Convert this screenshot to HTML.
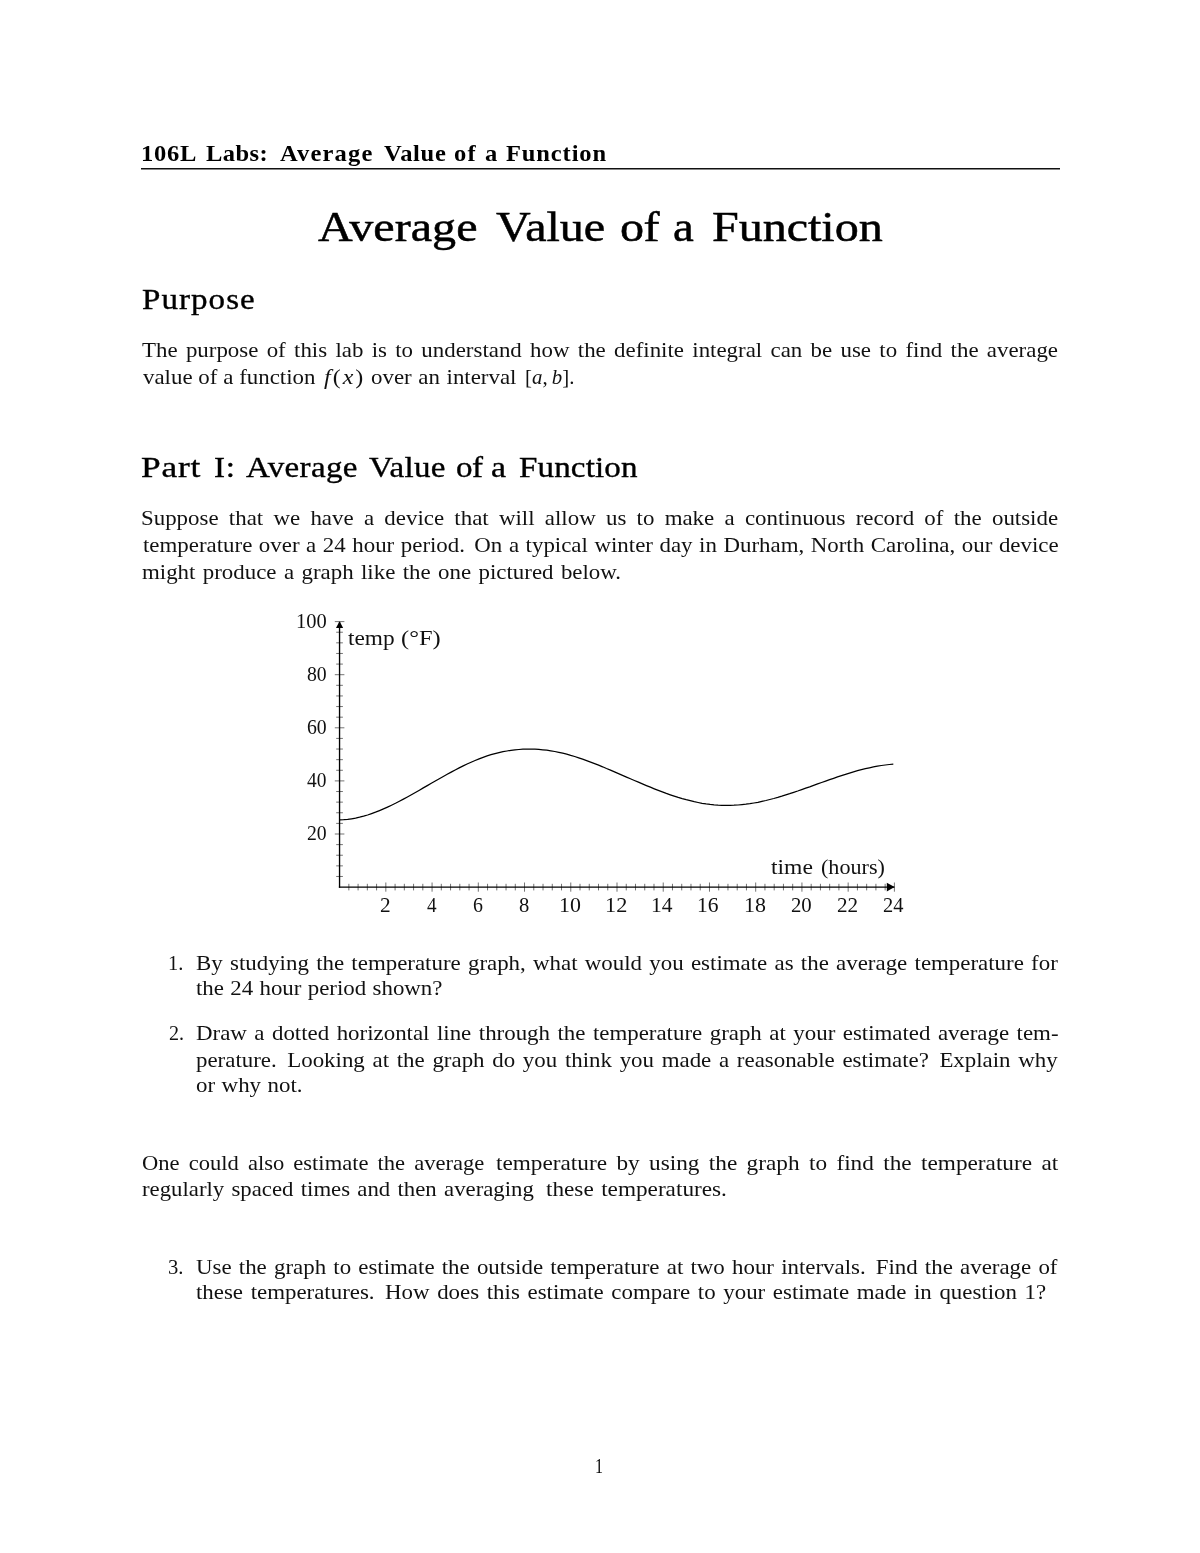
<!DOCTYPE html>
<html lang="en"><head><meta charset="utf-8"><title>Average Value of a Function</title>
<style>
html,body{margin:0;padding:0;background:#fff;}
body{width:1200px;height:1553px;position:relative;overflow:hidden;color:#111;font-family:"Liberation Serif",serif;}
header,h1,h2,p,ol,li,figure,footer{margin:0;padding:0;list-style:none;font:inherit;display:block;}
.t{display:block;position:absolute;white-space:nowrap;line-height:normal;margin:0;padding:0;transform-origin:0 0;}
.s{display:inline-block;width:2.62px;}
svg{position:absolute;left:0;top:0;}
</style></head><body>
<header>
<span class="t" style="left:141.08px;top:141.06px;font-size:22.1px;font-weight:bold;letter-spacing:0.687px;transform:scaleX(1.1100);color:#000;">106L</span>
<span class="t" style="left:206.12px;top:141.06px;font-size:22.1px;font-weight:bold;letter-spacing:0.390px;transform:scaleX(1.1100);color:#000;">Labs:</span>
<span class="t" style="left:279.50px;top:141.06px;font-size:22.1px;font-weight:bold;letter-spacing:1.041px;transform:scaleX(1.1100);color:#000;">Average</span>
<span class="t" style="left:383.75px;top:141.06px;font-size:22.1px;font-weight:bold;letter-spacing:0.611px;transform:scaleX(1.1100);color:#000;">Value</span>
<span class="t" style="left:454.23px;top:141.06px;font-size:22.1px;font-weight:bold;letter-spacing:1.188px;transform:scaleX(1.1100);color:#000;">of</span>
<span class="t" style="left:484.73px;top:141.06px;font-size:22.1px;font-weight:bold;transform:scaleX(1.1101);color:#000;">a</span>
<span class="t" style="left:505.87px;top:141.06px;font-size:22.1px;font-weight:bold;letter-spacing:0.780px;transform:scaleX(1.1100);color:#000;">Function</span>
</header>
<h1>
<span class="t" style="left:317.50px;top:203.26px;font-size:41.8px;letter-spacing:0.047px;transform:scaleX(1.1500);color:#000;-webkit-text-stroke:0.5px #000;">Average</span>
<span class="t" style="left:496.00px;top:203.26px;font-size:41.8px;letter-spacing:-0.085px;transform:scaleX(1.1500);color:#000;-webkit-text-stroke:0.5px #000;">Value</span>
<span class="t" style="left:620.00px;top:203.26px;font-size:41.8px;letter-spacing:-0.484px;transform:scaleX(1.1500);color:#000;-webkit-text-stroke:0.5px #000;">of</span>
<span class="t" style="left:672.54px;top:203.26px;font-size:41.8px;transform:scaleX(1.1189);color:#000;-webkit-text-stroke:0.5px #000;">a</span>
<span class="t" style="left:711.75px;top:203.26px;font-size:41.8px;letter-spacing:-0.021px;transform:scaleX(1.1500);color:#000;-webkit-text-stroke:0.5px #000;">Function</span>
</h1>
<h2>
<span class="t" style="left:141.78px;top:283.16px;font-size:29px;letter-spacing:0.902px;transform:scaleX(1.1400);color:#000;-webkit-text-stroke:0.35px #000;">Purpose</span>
</h2>
<p>
<span class="t" style="left:142.14px;top:338.03px;font-size:21.4px;word-spacing:2.415px;transform:scaleX(1.0700);">The purpose of this lab is to understand how the definite integral can be use to find the average</span>
<span class="t" style="left:142.50px;top:364.68px;font-size:21.4px;word-spacing:0.061px;transform:scaleX(1.0700);">value of a function</span>
<span class="t" style="left:323.75px;top:364.68px;font-size:21.4px;letter-spacing:1.780px;transform:scaleX(1.1200);"><i>f</i>(<i>x</i>)</span>
<span class="t" style="left:370.53px;top:364.68px;font-size:21.4px;word-spacing:0.847px;transform:scaleX(1.0700);">over an interval</span>
<span class="t" style="left:524.94px;top:364.68px;font-size:21.4px;word-spacing:-2.500px;transform:scaleX(0.9763);">[<i>a</i>,&#8201;<i>b</i>].</span>
</p>
<h2>
<span class="t" style="left:141.25px;top:451.16px;font-size:29px;letter-spacing:0.653px;transform:scaleX(1.2200);color:#000;-webkit-text-stroke:0.35px #000;">Part</span>
<span class="t" style="left:213.97px;top:451.16px;font-size:29px;letter-spacing:0.709px;transform:scaleX(1.1400);color:#000;-webkit-text-stroke:0.35px #000;">I:</span>
<span class="t" style="left:245.50px;top:451.16px;font-size:29px;letter-spacing:0.287px;transform:scaleX(1.1400);color:#000;-webkit-text-stroke:0.35px #000;">Average</span>
<span class="t" style="left:368.75px;top:451.16px;font-size:29px;letter-spacing:0.264px;transform:scaleX(1.1400);color:#000;-webkit-text-stroke:0.35px #000;">Value</span>
<span class="t" style="left:455.97px;top:451.16px;font-size:29px;letter-spacing:-0.536px;transform:scaleX(1.1400);color:#000;-webkit-text-stroke:0.35px #000;">of</span>
<span class="t" style="left:491.44px;top:451.16px;font-size:29px;transform:scaleX(1.1671);color:#000;-webkit-text-stroke:0.35px #000;">a</span>
<span class="t" style="left:518.98px;top:451.16px;font-size:29px;letter-spacing:0.121px;transform:scaleX(1.1400);color:#000;-webkit-text-stroke:0.35px #000;">Function</span>
</h2>
<p>
<span class="t" style="left:141.07px;top:505.93px;font-size:21.4px;word-spacing:4.257px;transform:scaleX(1.0700);">Suppose that we have a device that will allow us to make a continuous record of the outside</span>
<span class="t" style="left:142.50px;top:532.63px;font-size:21.4px;word-spacing:0.788px;transform:scaleX(1.0700);">temperature over a 24 hour period.<span class="s"></span> On a typical winter day in Durham, North Carolina, our device</span>
<span class="t" style="left:142.14px;top:559.68px;font-size:21.4px;word-spacing:1.568px;transform:scaleX(1.0700);">might produce a graph like the one pictured below.</span>
</p>
<ol><li>
<span class="t" style="left:168.40px;top:950.93px;font-size:21.4px;transform:scaleX(0.9585);">1.</span>
<span class="t" style="left:195.94px;top:950.93px;font-size:21.4px;word-spacing:1.461px;transform:scaleX(1.0700);">By studying the temperature graph, what would you estimate as the average temperature for</span>
<span class="t" style="left:196.30px;top:976.33px;font-size:21.4px;word-spacing:0.552px;transform:scaleX(1.0700);">the 24 hour period shown?</span>
</li></ol>
<ol><li>
<span class="t" style="left:168.67px;top:1021.33px;font-size:21.4px;transform:scaleX(0.9399);">2.</span>
<span class="t" style="left:195.94px;top:1021.33px;font-size:21.4px;word-spacing:1.652px;transform:scaleX(1.0700);">Draw a dotted horizontal line through the temperature graph at your estimated average tem-</span>
<span class="t" style="left:195.94px;top:1048.03px;font-size:21.4px;word-spacing:1.865px;transform:scaleX(1.0700);">perature.<span class="s"></span> Looking at the graph do you think you made a reasonable estimate?<span class="s"></span> Explain why</span>
<span class="t" style="left:195.58px;top:1073.43px;font-size:21.4px;word-spacing:0.773px;transform:scaleX(1.0700);">or why not.</span>
</li></ol>
<p>
<span class="t" style="left:141.80px;top:1151.33px;font-size:21.4px;word-spacing:3.300px;transform:scaleX(1.0541);">One could also estimate the average</span>
<span class="t" style="left:495.50px;top:1151.33px;font-size:21.4px;word-spacing:3.300px;transform:scaleX(1.0867);">temperature by using the graph to find the temperature at</span>
<span class="t" style="left:142.14px;top:1176.63px;font-size:21.4px;word-spacing:1.500px;transform:scaleX(1.0646);">regularly spaced times and then averaging</span>
<span class="t" style="left:545.50px;top:1176.63px;font-size:21.4px;word-spacing:1.500px;transform:scaleX(1.0856);">these temperatures.</span>
</p>
<ol><li>
<span class="t" style="left:168.33px;top:1254.53px;font-size:21.4px;transform:scaleX(0.9628);">3.</span>
<span class="t" style="left:195.94px;top:1254.53px;font-size:21.4px;word-spacing:1.385px;transform:scaleX(1.0700);">Use the graph to estimate the outside temperature at two hour intervals.<span class="s"></span> Find the average of</span>
<span class="t" style="left:196.30px;top:1279.68px;font-size:21.4px;word-spacing:1.793px;transform:scaleX(1.0700);">these temperatures.<span class="s"></span> How does this estimate compare to your estimate made in question 1?</span>
</li></ol>
<footer>
<span class="t" style="left:595.35px;top:1454.13px;font-size:21.4px;transform:scaleX(0.7477);color:#000;">1</span>
</footer>
<figure>
<span class="t" style="left:306.68px;top:821.47px;font-size:20.8px;transform:scaleX(0.9487);">20</span>
<span class="t" style="left:307.00px;top:768.37px;font-size:20.8px;transform:scaleX(0.9332);">40</span>
<span class="t" style="left:306.68px;top:715.27px;font-size:20.8px;transform:scaleX(0.9487);">60</span>
<span class="t" style="left:306.68px;top:662.17px;font-size:20.8px;transform:scaleX(0.9487);">80</span>
<span class="t" style="left:295.70px;top:608.97px;font-size:20.8px;transform:scaleX(0.9853);">100</span>
<span class="t" style="left:380.07px;top:893.47px;font-size:20.8px;transform:scaleX(1.0256);">2</span>
<span class="t" style="left:426.67px;top:893.47px;font-size:20.8px;transform:scaleX(0.9231);">4</span>
<span class="t" style="left:472.58px;top:893.47px;font-size:20.8px;transform:scaleX(0.9549);">6</span>
<span class="t" style="left:518.79px;top:893.47px;font-size:20.8px;transform:scaleX(0.9890);">8</span>
<span class="t" style="left:558.71px;top:893.47px;font-size:20.8px;transform:scaleX(1.0526);">10</span>
<span class="t" style="left:604.91px;top:893.47px;font-size:20.8px;transform:scaleX(1.0714);">12</span>
<span class="t" style="left:651.20px;top:893.47px;font-size:20.8px;transform:scaleX(1.0345);">14</span>
<span class="t" style="left:697.44px;top:893.47px;font-size:20.8px;transform:scaleX(1.0345);">16</span>
<span class="t" style="left:743.64px;top:893.47px;font-size:20.8px;transform:scaleX(1.0526);">18</span>
<span class="t" style="left:790.93px;top:893.47px;font-size:20.8px;transform:scaleX(1.0000);">20</span>
<span class="t" style="left:837.16px;top:893.47px;font-size:20.8px;transform:scaleX(1.0169);">22</span>
<span class="t" style="left:883.41px;top:893.47px;font-size:20.8px;transform:scaleX(0.9836);">24</span>
<span class="t" style="left:348.30px;top:625.67px;font-size:20.8px;transform:scaleX(1.1212);">temp</span>
<span class="t" style="left:401.24px;top:625.67px;font-size:20.8px;transform:scaleX(1.1751);">(°F)</span>
<span class="t" style="left:770.60px;top:855.22px;font-size:20.8px;transform:scaleX(1.1339);">time</span>
<span class="t" style="left:821.31px;top:855.22px;font-size:20.8px;transform:scaleX(1.0635);">(hours)</span>
<svg width="1200" height="1553" viewBox="0 0 1200 1553"><g stroke="#000" stroke-width="1" stroke-opacity="0.55" fill="none"><line x1="348.85" y1="883.8" x2="348.85" y2="890.4"/><line x1="358.09" y1="883.8" x2="358.09" y2="890.4"/><line x1="367.34" y1="883.8" x2="367.34" y2="890.4"/><line x1="376.59" y1="883.8" x2="376.59" y2="890.4"/><line x1="385.83" y1="882.5" x2="385.83" y2="891.7"/><line x1="395.08" y1="883.8" x2="395.08" y2="890.4"/><line x1="404.33" y1="883.8" x2="404.33" y2="890.4"/><line x1="413.57" y1="883.8" x2="413.57" y2="890.4"/><line x1="422.82" y1="883.8" x2="422.82" y2="890.4"/><line x1="432.07" y1="882.5" x2="432.07" y2="891.7"/><line x1="441.31" y1="883.8" x2="441.31" y2="890.4"/><line x1="450.56" y1="883.8" x2="450.56" y2="890.4"/><line x1="459.81" y1="883.8" x2="459.81" y2="890.4"/><line x1="469.05" y1="883.8" x2="469.05" y2="890.4"/><line x1="478.30" y1="882.5" x2="478.30" y2="891.7"/><line x1="487.55" y1="883.8" x2="487.55" y2="890.4"/><line x1="496.79" y1="883.8" x2="496.79" y2="890.4"/><line x1="506.04" y1="883.8" x2="506.04" y2="890.4"/><line x1="515.29" y1="883.8" x2="515.29" y2="890.4"/><line x1="524.53" y1="882.5" x2="524.53" y2="891.7"/><line x1="533.78" y1="883.8" x2="533.78" y2="890.4"/><line x1="543.03" y1="883.8" x2="543.03" y2="890.4"/><line x1="552.27" y1="883.8" x2="552.27" y2="890.4"/><line x1="561.52" y1="883.8" x2="561.52" y2="890.4"/><line x1="570.77" y1="882.5" x2="570.77" y2="891.7"/><line x1="580.01" y1="883.8" x2="580.01" y2="890.4"/><line x1="589.26" y1="883.8" x2="589.26" y2="890.4"/><line x1="598.51" y1="883.8" x2="598.51" y2="890.4"/><line x1="607.75" y1="883.8" x2="607.75" y2="890.4"/><line x1="617.00" y1="882.5" x2="617.00" y2="891.7"/><line x1="626.25" y1="883.8" x2="626.25" y2="890.4"/><line x1="635.49" y1="883.8" x2="635.49" y2="890.4"/><line x1="644.74" y1="883.8" x2="644.74" y2="890.4"/><line x1="653.99" y1="883.8" x2="653.99" y2="890.4"/><line x1="663.23" y1="882.5" x2="663.23" y2="891.7"/><line x1="672.48" y1="883.8" x2="672.48" y2="890.4"/><line x1="681.73" y1="883.8" x2="681.73" y2="890.4"/><line x1="690.97" y1="883.8" x2="690.97" y2="890.4"/><line x1="700.22" y1="883.8" x2="700.22" y2="890.4"/><line x1="709.47" y1="882.5" x2="709.47" y2="891.7"/><line x1="718.71" y1="883.8" x2="718.71" y2="890.4"/><line x1="727.96" y1="883.8" x2="727.96" y2="890.4"/><line x1="737.21" y1="883.8" x2="737.21" y2="890.4"/><line x1="746.45" y1="883.8" x2="746.45" y2="890.4"/><line x1="755.70" y1="882.5" x2="755.70" y2="891.7"/><line x1="764.95" y1="883.8" x2="764.95" y2="890.4"/><line x1="774.19" y1="883.8" x2="774.19" y2="890.4"/><line x1="783.44" y1="883.8" x2="783.44" y2="890.4"/><line x1="792.69" y1="883.8" x2="792.69" y2="890.4"/><line x1="801.93" y1="882.5" x2="801.93" y2="891.7"/><line x1="811.18" y1="883.8" x2="811.18" y2="890.4"/><line x1="820.43" y1="883.8" x2="820.43" y2="890.4"/><line x1="829.67" y1="883.8" x2="829.67" y2="890.4"/><line x1="838.92" y1="883.8" x2="838.92" y2="890.4"/><line x1="848.17" y1="882.5" x2="848.17" y2="891.7"/><line x1="857.41" y1="883.8" x2="857.41" y2="890.4"/><line x1="866.66" y1="883.8" x2="866.66" y2="890.4"/><line x1="875.91" y1="883.8" x2="875.91" y2="890.4"/><line x1="885.15" y1="883.8" x2="885.15" y2="890.4"/><line x1="894.40" y1="882.5" x2="894.40" y2="891.7"/><line x1="336.2" y1="876.48" x2="342.9" y2="876.48"/><line x1="336.2" y1="865.86" x2="342.9" y2="865.86"/><line x1="336.2" y1="855.24" x2="342.9" y2="855.24"/><line x1="336.2" y1="844.62" x2="342.9" y2="844.62"/><line x1="334.8" y1="834.00" x2="344.4" y2="834.00"/><line x1="336.2" y1="823.38" x2="342.9" y2="823.38"/><line x1="336.2" y1="812.76" x2="342.9" y2="812.76"/><line x1="336.2" y1="802.14" x2="342.9" y2="802.14"/><line x1="336.2" y1="791.52" x2="342.9" y2="791.52"/><line x1="334.8" y1="780.90" x2="344.4" y2="780.90"/><line x1="336.2" y1="770.28" x2="342.9" y2="770.28"/><line x1="336.2" y1="759.66" x2="342.9" y2="759.66"/><line x1="336.2" y1="749.04" x2="342.9" y2="749.04"/><line x1="336.2" y1="738.42" x2="342.9" y2="738.42"/><line x1="334.8" y1="727.80" x2="344.4" y2="727.80"/><line x1="336.2" y1="717.18" x2="342.9" y2="717.18"/><line x1="336.2" y1="706.56" x2="342.9" y2="706.56"/><line x1="336.2" y1="695.94" x2="342.9" y2="695.94"/><line x1="336.2" y1="685.32" x2="342.9" y2="685.32"/><line x1="334.8" y1="674.70" x2="344.4" y2="674.70"/><line x1="336.2" y1="664.08" x2="342.9" y2="664.08"/><line x1="336.2" y1="653.46" x2="342.9" y2="653.46"/><line x1="336.2" y1="642.84" x2="342.9" y2="642.84"/><line x1="336.2" y1="632.22" x2="342.9" y2="632.22"/><line x1="334.8" y1="621.60" x2="344.4" y2="621.60"/></g><g stroke="#000" stroke-width="1.35" fill="none"><line x1="339.55" y1="622" x2="339.55" y2="887.77"/><line x1="338.88" y1="887.1" x2="894.4" y2="887.1"/></g><polygon points="339.55,621.2 335.95,628 343.15,628" fill="#000"/><polygon points="894.6,887.1 886.8,882.8 886.8,891.4" fill="#000"/><path d="M339.7,819.9 L343.7,819.7 L347.7,819.4 L351.6,818.8 L355.6,818.1 L359.6,817.2 L363.6,816.2 L367.6,815.0 L371.6,813.6 L375.5,812.2 L379.5,810.6 L383.5,808.9 L387.5,807.1 L391.5,805.2 L395.5,803.3 L399.4,801.2 L403.4,799.1 L407.4,797.0 L411.4,794.8 L415.4,792.5 L419.4,790.2 L423.3,787.9 L427.3,785.6 L431.3,783.3 L435.3,781.0 L439.3,778.8 L443.3,776.5 L447.2,774.3 L451.2,772.1 L455.2,770.0 L459.2,767.9 L463.2,765.9 L467.1,764.0 L471.1,762.2 L475.1,760.5 L479.1,758.8 L483.1,757.3 L487.1,755.9 L491.0,754.7 L495.0,753.6 L499.0,752.6 L503.0,751.7 L507.0,751.0 L511.0,750.3 L514.9,749.8 L518.9,749.5 L522.9,749.2 L526.9,749.1 L530.9,749.1 L534.9,749.2 L538.8,749.4 L542.8,749.8 L546.8,750.2 L550.8,750.8 L554.8,751.5 L558.8,752.3 L562.7,753.2 L566.7,754.2 L570.7,755.4 L574.7,756.5 L578.7,757.8 L582.6,759.2 L586.6,760.6 L590.6,762.1 L594.6,763.6 L598.6,765.2 L602.6,766.8 L606.5,768.5 L610.5,770.1 L614.5,771.9 L618.5,773.6 L622.5,775.3 L626.5,777.1 L630.4,778.8 L634.4,780.5 L638.4,782.2 L642.4,783.9 L646.4,785.6 L650.4,787.2 L654.3,788.8 L658.3,790.4 L662.3,791.9 L666.3,793.4 L670.3,794.8 L674.2,796.1 L678.2,797.4 L682.2,798.6 L686.2,799.7 L690.2,800.7 L694.2,801.7 L698.1,802.5 L702.1,803.3 L706.1,803.9 L710.1,804.4 L714.1,804.8 L718.1,805.1 L722.0,805.3 L726.0,805.4 L730.0,805.3 L734.0,805.2 L738.0,805.0 L742.0,804.6 L745.9,804.2 L749.9,803.7 L753.9,803.0 L757.9,802.3 L761.9,801.4 L765.9,800.5 L769.8,799.5 L773.8,798.5 L777.8,797.4 L781.8,796.2 L785.8,794.9 L789.7,793.7 L793.7,792.3 L797.7,791.0 L801.7,789.6 L805.7,788.2 L809.7,786.8 L813.6,785.3 L817.6,783.9 L821.6,782.5 L825.6,781.1 L829.6,779.7 L833.6,778.3 L837.5,776.9 L841.5,775.6 L845.5,774.3 L849.5,773.1 L853.5,771.9 L857.5,770.7 L861.4,769.7 L865.4,768.7 L869.4,767.8 L873.4,766.9 L877.4,766.2 L881.4,765.5 L885.3,765.0 L889.3,764.5 L893.3,764.2" stroke="#000" stroke-width="1.25" fill="none"/><line x1="141" y1="168.7" x2="1060" y2="168.7" stroke="#111" stroke-width="1.4"/></svg>
</figure>
</body></html>
